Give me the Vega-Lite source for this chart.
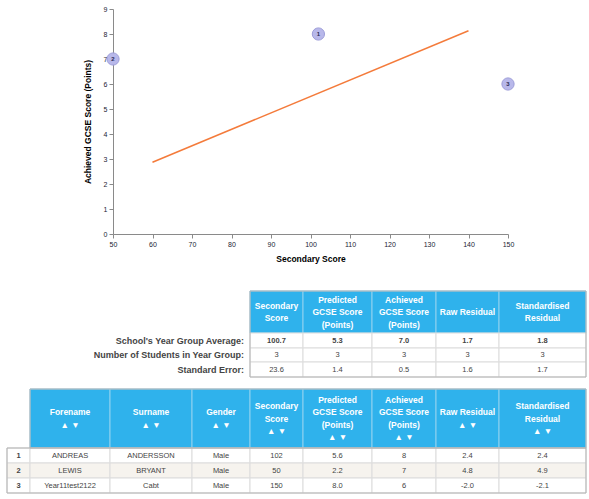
{
  "$schema": "https://vega.github.io/schema/vega-lite/v6.json",
  "padding": {"left": 6, "top": 5, "right": 0, "bottom": 0},
  "bounds": "flush",
  "spacing": 57,
  "config": {"view": {"stroke": null}, "font": "Liberation Sans"},
  "datasets": {
    "fit": [
      {"score": 60, "gcse": 2.87},
      {"score": 140, "gcse": 8.13}
    ],
    "students": [
      {"id": 1, "score": 102, "gcse": 8},
      {"id": 2, "score": 50, "gcse": 7},
      {"id": 3, "score": 150, "gcse": 6}
    ],
    "frames": [
      {"c": 4, "ce": 9, "r": 0, "re": 4},
      {"c": 1, "ce": 9, "r": 5, "re": 6},
      {"c": 0, "ce": 9, "r": 6, "re": 9}
    ],
    "cells": [
      {"k": "h", "r": 0, "c": 4, "v": "Secondary\nScore"},
      {"k": "h", "r": 0, "c": 5, "v": "Predicted\nGCSE Score\n(Points)"},
      {"k": "h", "r": 0, "c": 6, "v": "Achieved\nGCSE Score\n(Points)"},
      {"k": "h", "r": 0, "c": 7, "v": "Raw Residual"},
      {"k": "h", "r": 0, "c": 8, "v": "Standardised\nResidual"},
      {"k": "l", "r": 1, "c": 4, "v": "School's Year Group Average:"},
      {"k": "l", "r": 2, "c": 4, "v": "Number of Students in Year Group:"},
      {"k": "l", "r": 3, "c": 4, "v": "Standard Error:"},
      {"k": "bb", "r": 1, "c": 4, "v": "100.7"},
      {"k": "bb", "r": 1, "c": 5, "v": "5.3"},
      {"k": "bb", "r": 1, "c": 6, "v": "7.0"},
      {"k": "bb", "r": 1, "c": 7, "v": "1.7"},
      {"k": "bb", "r": 1, "c": 8, "v": "1.8"},
      {"k": "b", "r": 2, "c": 4, "v": "3"},
      {"k": "b", "r": 2, "c": 5, "v": "3"},
      {"k": "b", "r": 2, "c": 6, "v": "3"},
      {"k": "b", "r": 2, "c": 7, "v": "3"},
      {"k": "b", "r": 2, "c": 8, "v": "3"},
      {"k": "b", "r": 3, "c": 4, "v": "23.6"},
      {"k": "b", "r": 3, "c": 5, "v": "1.4"},
      {"k": "b", "r": 3, "c": 6, "v": "0.5"},
      {"k": "b", "r": 3, "c": 7, "v": "1.6"},
      {"k": "b", "r": 3, "c": 8, "v": "1.7"},
      {"k": "h", "r": 5, "c": 1, "v": "Forename\n▲ ▼"},
      {"k": "h", "r": 5, "c": 2, "v": "Surname\n▲ ▼"},
      {"k": "h", "r": 5, "c": 3, "v": "Gender\n▲ ▼"},
      {"k": "h", "r": 5, "c": 4, "v": "Secondary\nScore\n▲ ▼"},
      {"k": "h", "r": 5, "c": 5, "v": "Predicted\nGCSE Score\n(Points)\n▲ ▼"},
      {"k": "h", "r": 5, "c": 6, "v": "Achieved\nGCSE Score\n(Points)\n▲ ▼"},
      {"k": "h", "r": 5, "c": 7, "v": "Raw Residual\n▲ ▼"},
      {"k": "h", "r": 5, "c": 8, "v": "Standardised\nResidual\n▲ ▼"},
      {"k": "i", "r": 6, "c": 0, "v": "1"},
      {"k": "b", "r": 6, "c": 1, "v": "ANDREAS"},
      {"k": "b", "r": 6, "c": 2, "v": "ANDERSSON"},
      {"k": "b", "r": 6, "c": 3, "v": "Male"},
      {"k": "b", "r": 6, "c": 4, "v": "102"},
      {"k": "b", "r": 6, "c": 5, "v": "5.6"},
      {"k": "b", "r": 6, "c": 6, "v": "8"},
      {"k": "b", "r": 6, "c": 7, "v": "2.4"},
      {"k": "b", "r": 6, "c": 8, "v": "2.4"},
      {"k": "i", "r": 7, "c": 0, "v": "2"},
      {"k": "b", "r": 7, "c": 1, "v": "LEWIS"},
      {"k": "b", "r": 7, "c": 2, "v": "BRYANT"},
      {"k": "b", "r": 7, "c": 3, "v": "Male"},
      {"k": "b", "r": 7, "c": 4, "v": "50"},
      {"k": "b", "r": 7, "c": 5, "v": "2.2"},
      {"k": "b", "r": 7, "c": 6, "v": "7"},
      {"k": "b", "r": 7, "c": 7, "v": "4.8"},
      {"k": "b", "r": 7, "c": 8, "v": "4.9"},
      {"k": "i", "r": 8, "c": 0, "v": "3"},
      {"k": "b", "r": 8, "c": 1, "v": "Year11test2122"},
      {"k": "b", "r": 8, "c": 2, "v": "Cabt"},
      {"k": "b", "r": 8, "c": 3, "v": "Male"},
      {"k": "b", "r": 8, "c": 4, "v": "150"},
      {"k": "b", "r": 8, "c": 5, "v": "8.0"},
      {"k": "b", "r": 8, "c": 6, "v": "6"},
      {"k": "b", "r": 8, "c": 7, "v": "-2.0"},
      {"k": "b", "r": 8, "c": 8, "v": "-2.1"}
    ]
  },
  "vconcat": [
    {
      "width": 395,
      "height": 225,
      "encoding": {
        "x": {
          "field": "score", "type": "quantitative",
          "scale": {"domain": [50, 150], "nice": false, "zero": false},
          "axis": {
            "title": "Secondary Score", "values": [50, 60, 70, 80, 90, 100, 110, 120, 130, 140, 150], "tickCount": 11,
            "grid": false, "domainColor": "#8a8a8a", "tickColor": "#8a8a8a", "tickSize": 4,
            "labelFontSize": 7, "labelColor": "#222233", "labelPadding": 2, "labelFlush": false, "labelOverlap": false,
            "titleFontSize": 8.5, "titleFontWeight": "bold", "titleColor": "#000000", "titlePadding": 7
          }
        },
        "y": {
          "field": "gcse", "type": "quantitative",
          "scale": {"domain": [0, 9], "nice": false, "zero": false},
          "axis": {
            "title": "Achieved GCSE Score (Points)", "values": [0, 1, 2, 3, 4, 5, 6, 7, 8, 9], "tickCount": 10,
            "grid": false, "domainColor": "#8a8a8a", "tickColor": "#8a8a8a", "tickSize": 4,
            "labelFontSize": 7, "labelColor": "#222233", "labelPadding": 2, "labelOverlap": false, "labelFlush": false,
            "titleFontSize": 8.5, "titleFontWeight": "bold", "titleColor": "#000000", "titlePadding": 11
          }
        }
      },
      "layer": [
        {
          "data": {"name": "fit"},
          "mark": {"type": "line", "color": "#f47b3b", "strokeWidth": 1.5}
        },
        {
          "data": {"name": "students"},
          "mark": {"type": "circle", "size": 150, "fill": "#b8b8ea", "stroke": "#9d9dd9", "strokeWidth": 1, "opacity": 1}
        },
        {
          "data": {"name": "students"},
          "mark": {"type": "text", "fontSize": 6, "fontWeight": "bold", "color": "#2a2a55", "baseline": "middle", "align": "center"},
          "encoding": {
            "text": {"field": "id"}
          }
        }
      ]
    },
    {
      "width": 473,
      "height": 202,
      "layer": [
        {
          "data": {"name": "cells"},
          "transform": [
            {"filter": "datum.k === 'h'"},
            {"calculate": "datum.c + 1", "as": "c2"},
            {"calculate": "datum.r + 1", "as": "r2"}
          ],
          "mark": {"type": "rect", "fill": "#2fb2ec", "stroke": "#8fd1ef", "strokeWidth": 1},
          "encoding": {
            "x": {"field": "c", "type": "quantitative", "axis": null,
                  "scale": {"domain": [0, 1, 2, 3, 4, 5, 6, 7, 8, 9], "range": [-106, -83, -3, 79, 137, 190, 259, 323, 386, 473], "nice": false, "zero": false}},
            "x2": {"field": "c2"},
            "y": {"field": "r", "type": "quantitative", "axis": null,
                  "scale": {"domain": [0, 1, 2, 3, 4, 5, 6, 7, 8, 9], "range": [0, 42, 57, 71, 86, 98, 157, 172, 187, 202], "nice": false, "zero": false}},
            "y2": {"field": "r2"}
          }
        },
        {
          "data": {"name": "cells"},
          "transform": [
            {"filter": "datum.k === 'b' || datum.k === 'bb' || datum.k === 'i'"},
            {"calculate": "datum.c + 1", "as": "c2"},
            {"calculate": "datum.r + 1", "as": "r2"}
          ],
          "mark": {"type": "rect", "stroke": "#dcdcdc", "strokeWidth": 1},
          "encoding": {
            "x": {"field": "c", "type": "quantitative", "axis": null},
            "x2": {"field": "c2"},
            "y": {"field": "r", "type": "quantitative", "axis": null},
            "y2": {"field": "r2"},
            "fill": {"condition": {"test": "datum.r === 7", "value": "#f6f3ee"}, "value": "#ffffff"}
          }
        },
        {
          "data": {"name": "frames"},
          "mark": {"type": "rect", "filled": false, "stroke": "#b3b3b3", "strokeWidth": 1},
          "encoding": {
            "x": {"field": "c", "type": "quantitative", "axis": null},
            "x2": {"field": "ce"},
            "y": {"field": "r", "type": "quantitative", "axis": null},
            "y2": {"field": "re"}
          }
        },
        {
          "data": {"name": "cells"},
          "transform": [
            {"filter": "datum.k === 'h' && length(split(datum.v, '\\n')) === 1"},
            {"calculate": "datum.c + 0.5", "as": "cm"},
            {"calculate": "datum.r + 0.5", "as": "rm"}
          ],
          "mark": {"type": "text", "color": "#ffffff", "fontSize": 8.5, "fontWeight": "bold", "lineBreak": "\n", "lineHeight": 12.5, "align": "center", "baseline": "middle", "dy": 0},
          "encoding": {
            "x": {"field": "cm", "type": "quantitative", "axis": null},
            "y": {"field": "rm", "type": "quantitative", "axis": null},
            "text": {"field": "v"}
          }
        },
        {
          "data": {"name": "cells"},
          "transform": [
            {"filter": "datum.k === 'h' && length(split(datum.v, '\\n')) === 2"},
            {"calculate": "datum.c + 0.5", "as": "cm"},
            {"calculate": "datum.r + 0.5", "as": "rm"}
          ],
          "mark": {"type": "text", "color": "#ffffff", "fontSize": 8.5, "fontWeight": "bold", "lineBreak": "\n", "lineHeight": 12.5, "align": "center", "baseline": "middle", "dy": -6.25},
          "encoding": {
            "x": {"field": "cm", "type": "quantitative", "axis": null},
            "y": {"field": "rm", "type": "quantitative", "axis": null},
            "text": {"field": "v"}
          }
        },
        {
          "data": {"name": "cells"},
          "transform": [
            {"filter": "datum.k === 'h' && length(split(datum.v, '\\n')) === 3"},
            {"calculate": "datum.c + 0.5", "as": "cm"},
            {"calculate": "datum.r + 0.5", "as": "rm"}
          ],
          "mark": {"type": "text", "color": "#ffffff", "fontSize": 8.5, "fontWeight": "bold", "lineBreak": "\n", "lineHeight": 12.5, "align": "center", "baseline": "middle", "dy": -12.5},
          "encoding": {
            "x": {"field": "cm", "type": "quantitative", "axis": null},
            "y": {"field": "rm", "type": "quantitative", "axis": null},
            "text": {"field": "v"}
          }
        },
        {
          "data": {"name": "cells"},
          "transform": [
            {"filter": "datum.k === 'h' && length(split(datum.v, '\\n')) === 4"},
            {"calculate": "datum.c + 0.5", "as": "cm"},
            {"calculate": "datum.r + 0.5", "as": "rm"}
          ],
          "mark": {"type": "text", "color": "#ffffff", "fontSize": 8.5, "fontWeight": "bold", "lineBreak": "\n", "lineHeight": 12.5, "align": "center", "baseline": "middle", "dy": -18.75},
          "encoding": {
            "x": {"field": "cm", "type": "quantitative", "axis": null},
            "y": {"field": "rm", "type": "quantitative", "axis": null},
            "text": {"field": "v"}
          }
        },
        {
          "data": {"name": "cells"},
          "transform": [
            {"filter": "datum.k === 'b'"},
            {"calculate": "datum.c + 0.5", "as": "cm"},
            {"calculate": "datum.r + 0.5", "as": "rm"}
          ],
          "mark": {"type": "text", "color": "#444444", "fontSize": 7.5, "align": "center", "baseline": "middle"},
          "encoding": {
            "x": {"field": "cm", "type": "quantitative", "axis": null},
            "y": {"field": "rm", "type": "quantitative", "axis": null},
            "text": {"field": "v"}
          }
        },
        {
          "data": {"name": "cells"},
          "transform": [
            {"filter": "datum.k === 'bb' || datum.k === 'i'"},
            {"calculate": "datum.c + 0.5", "as": "cm"},
            {"calculate": "datum.r + 0.5", "as": "rm"}
          ],
          "mark": {"type": "text", "color": "#444444", "fontSize": 7.5, "fontWeight": "bold", "align": "center", "baseline": "middle"},
          "encoding": {
            "x": {"field": "cm", "type": "quantitative", "axis": null},
            "y": {"field": "rm", "type": "quantitative", "axis": null},
            "text": {"field": "v"}
          }
        },
        {
          "data": {"name": "cells"},
          "transform": [
            {"filter": "datum.k === 'l'"},
            {"calculate": "datum.r + 0.5", "as": "rm"}
          ],
          "mark": {"type": "text", "color": "#444444", "fontSize": 9, "fontWeight": "bold", "align": "right", "baseline": "middle", "dx": -6},
          "encoding": {
            "x": {"field": "c", "type": "quantitative", "axis": null},
            "y": {"field": "rm", "type": "quantitative", "axis": null},
            "text": {"field": "v"}
          }
        }
      ]
    }
  ]
}
